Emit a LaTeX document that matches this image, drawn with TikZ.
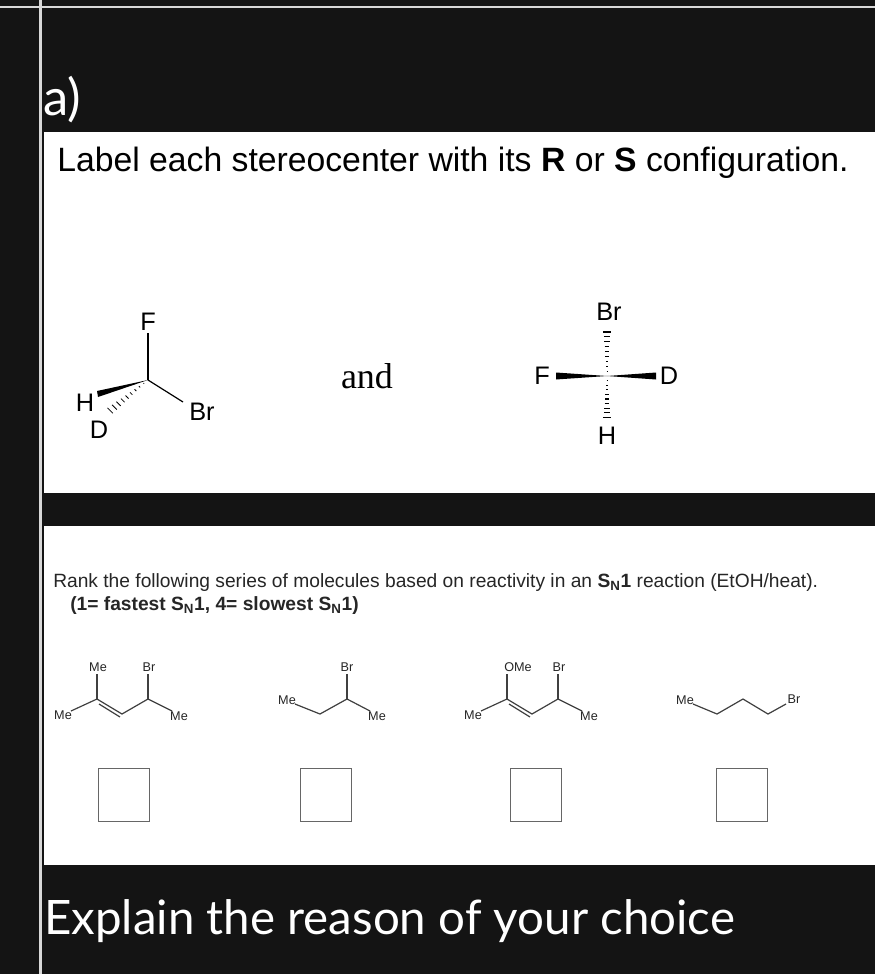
\documentclass[tikz,border=0pt]{standalone}
\usepackage{fontspec}
\setmainfont{Liberation Sans}
\newfontfamily\serif{Liberation Serif}
\newfontfamily\lato{Lato}
\usetikzlibrary{calc}
\definecolor{bg}{HTML}{141414}
\definecolor{rule}{HTML}{D8D8D8}
\tikzset{
 lab/.style={inner sep=0pt,font=\fontsize{19}{19}\selectfont},
 sm/.style={inner sep=0pt,font=\fontsize{9.5}{9.5}\selectfont,text=black!85},
 bond/.style={line width=0.9pt},
 sbond/.style={line width=0.9pt,black!75},
 boxx/.style={draw=gray!80!black,line width=1.1pt,minimum width=38pt,minimum height=40pt,inner sep=0pt},
}
\begin{document}
\begin{tikzpicture}[x=0.75pt,y=-0.75pt]
\useasboundingbox (0,0) rectangle (875,974);
\fill[bg] (0,0) rectangle (875,974);
\fill[rule] (0,6) rectangle (875,8);
\fill[rule] (39,0) rectangle (42,974);
\fill[white] (44,132) rectangle (875,493);
\fill[white] (44,526) rectangle (875,865);
\node[anchor=west,inner sep=0pt,text=white,font=\lato\fontsize{38}{38}\selectfont] (a) at (43,100) {a)};
\node[anchor=west,inner sep=0pt,font=\fontsize{25.3}{25}\selectfont] (h) at (57,163) {Label each stereocenter with its \textbf{R} or \textbf{S} configuration.};
% molecule 1
\coordinate (c1) at (148,380);
\node[lab] (F1) at (148,322) {F};
\node[lab] (Br1) at (202,412) {Br};
\node[lab] (H1) at (85,403) {H};
\node[lab] (D1) at (99,430) {D};
\draw[bond] (c1) -- (148,333);
\draw[bond] (c1) -- (183,402);
\fill (c1) -- (97,391) -- (98,397) -- cycle;
\foreach \t in {0.1,0.2,...,0.95}{
 \draw[line width=0.6pt] ($(c1)!\t!(106,414)$) ++(-3*\t,-3*\t) -- ++(6*\t,6*\t);}
\node[inner sep=0pt,font=\serif\fontsize{27}{27}\selectfont] (and) at (367,376) {and};
% molecule 2
\coordinate (c2) at (607,376);
\node[lab] (Br2) at (609,312) {Br};
\node[lab] (H2) at (607,436) {H};
\node[lab] (F2) at (542,376) {F};
\node[lab] (D2) at (669,376) {D};
\fill (c2) -- (556,372.5) -- (556,379.5) -- cycle;
\fill (c2) -- (656,372.5) -- (656,379.5) -- cycle;
\foreach \t in {0.1,0.2,...,0.95}{
 \draw[line width=0.9pt] ($(c2)!\t!(607,327)$) ++(-4*\t,0) -- ++(8*\t,0);
 \draw[line width=0.9pt] ($(c2)!\t!(607,422)$) ++(-4*\t,0) -- ++(8*\t,0);}
% ranking
\node[anchor=west,inner sep=0pt,font=\fontsize{14.4}{14}\selectfont,text=black!85] (r1) at (53,583) {Rank the following series of molecules based on reactivity in an \textbf{S\textsubscript{N}1} reaction (EtOH/heat).};
\node[anchor=west,inner sep=0pt,font=\bfseries\fontsize{14.4}{14}\selectfont,text=black!85] (r2) at (70,606) {(1= fastest S\textsubscript{N}1, 4= slowest S\textsubscript{N}1)};
% mol A
\node[sm] (a1) at (63,715) {Me};
\node[sm] (a2) at (98,667) {Me};
\node[sm] (a3) at (149,667) {Br};
\node[sm] (a4) at (179,716) {Me};
\draw[sbond] (71,711) -- (97,699) -- (122,714) -- (148,699) -- (172,711);
\draw[sbond] (99,704) -- (120,717);
\draw[sbond] (97,699) -- (97,674);
\draw[sbond] (148,699) -- (148,674);
% mol B
\node[sm] (b1) at (287,700) {Me};
\node[sm] (b2) at (347,667) {Br};
\node[sm] (b3) at (377,716) {Me};
\draw[sbond] (295,704) -- (320,714) -- (347,699) -- (370,711);
\draw[sbond] (347,699) -- (347,674);
% mol C
\node[sm] (c1a) at (473,715) {Me};
\node[sm] (c2a) at (518,667) {OMe};
\node[sm] (c3a) at (559,667) {Br};
\node[sm] (c4a) at (589,716) {Me};
\draw[sbond] (481,711) -- (507,699) -- (532,714) -- (558,699) -- (582,711);
\draw[sbond] (509,704) -- (530,717);
\draw[sbond] (507,699) -- (507,674);
\draw[sbond] (558,699) -- (558,674);
% mol D
\node[sm] (d1) at (685,700) {Me};
\node[sm] (d2) at (794,699) {Br};
\draw[sbond] (693,704) -- (717,714) -- (743,699) -- (768,714) -- (786,704);
% boxes
\node[boxx] (s1) at (124,795) {};
\node[boxx] (s2) at (326,795) {};
\node[boxx] (s3) at (536,795) {};
\node[boxx] (s4) at (742,795) {};
\node[anchor=west,inner sep=0pt,text=white,font=\lato\fontsize{35.6}{36}\selectfont] (ex) at (44,921) {Explain the reason of your choice};
\end{tikzpicture}
\end{document}
